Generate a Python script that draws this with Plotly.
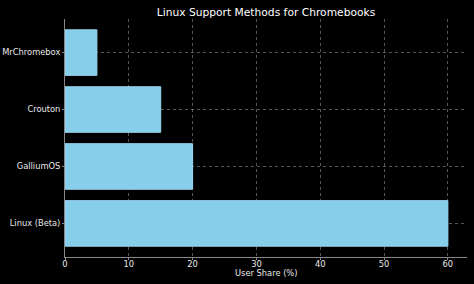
import plotly.graph_objects as go

methods = ["Linux (Beta)", "GalliumOS", "Crouton", "MrChromebox"]
share = [60, 20, 15, 5]
x_ticks = [0, 10, 20, 30, 40, 50, 60]

fig = go.Figure()
fig.add_trace(go.Bar(
    x=share, y=methods, orientation="h", width=0.8,
    marker=dict(color="#87CEEB", line=dict(color="#9ad6f0", width=1)),
))
axis_font = dict(family="DejaVu Sans", size=8.3, color="#e8e8e8")
grid_col = "rgba(190,190,190,0.45)"
fig.update_layout(
    width=474, height=284,
    margin=dict(l=65, r=7, t=19, b=27, autoexpand=False),
    paper_bgcolor="black", plot_bgcolor="black",
    showlegend=False,
    title=dict(text="Linux Support Methods for Chromebooks", xref="paper", x=0.5, xanchor="center",
               yref="container", y=1 - 12 / 284, yanchor="middle",
               font=dict(family="DejaVu Sans", size=10.7, color="white")),
    xaxis=dict(range=[0, 63], tickvals=x_ticks, showgrid=True, gridcolor=grid_col,
               griddash="dot", gridwidth=1, zeroline=False, showline=True, linecolor="#888",
               linewidth=1, ticks="outside", ticklen=2, tickcolor="#888", tickfont=axis_font,
               automargin=False, ticklabelstandoff=-3, layer="above traces"),
    yaxis=dict(type="category", categoryorder="array", categoryarray=methods, range=[-0.59, 3.59],
               showgrid=True, gridcolor=grid_col, griddash="dot", gridwidth=1,
               zeroline=False, showline=True, linecolor="#888", linewidth=1, ticks="outside",
               ticklen=2, tickcolor="#888", tickfont=axis_font, automargin=False,
               layer="above traces"),
    annotations=[dict(text="User Share (%)", xref="paper", yref="paper", x=0.5, y=-15.5 / 238,
                      xanchor="center", yanchor="middle", showarrow=False, font=axis_font)],
)
fig.write_html("out.html")
